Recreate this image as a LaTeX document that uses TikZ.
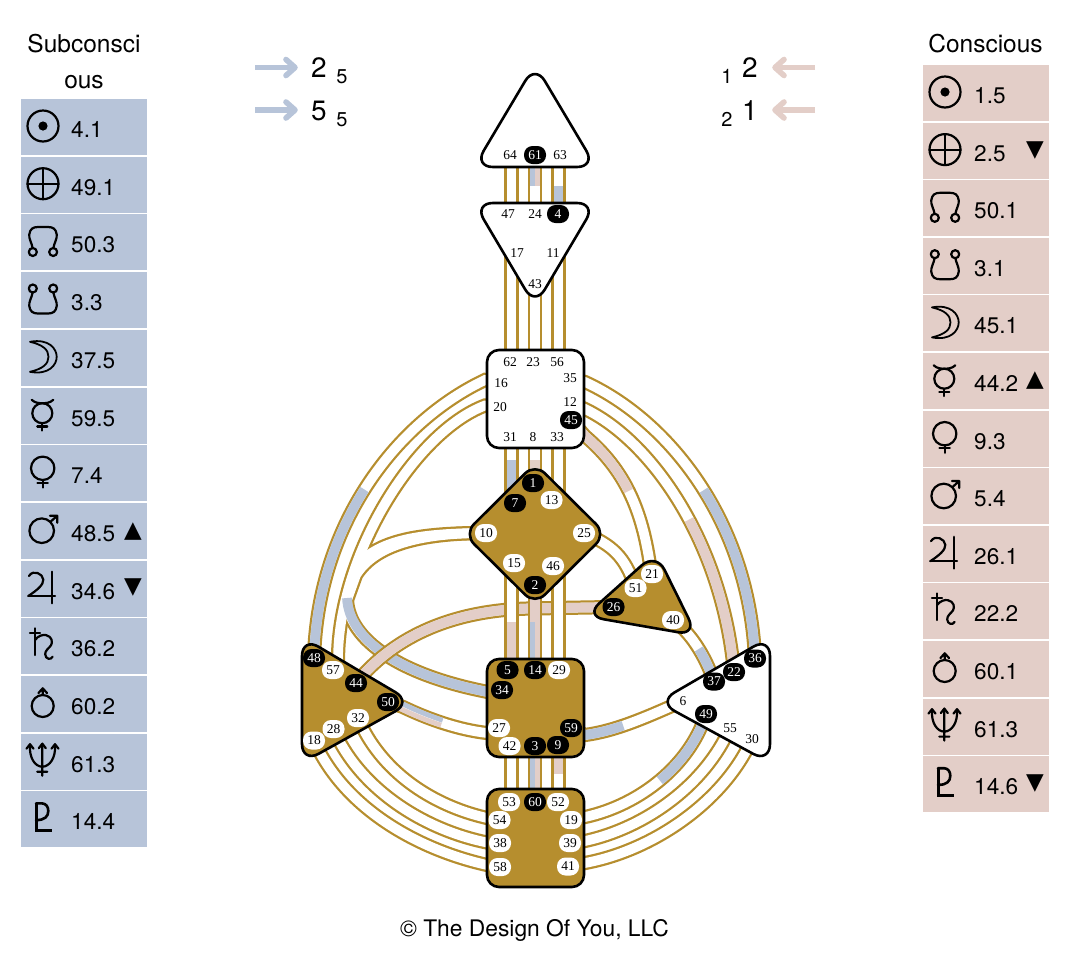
\documentclass[tikz,border=0pt]{standalone}
\usepackage{fontspec}
\setmainfont{TeX Gyre Heros}
\newfontfamily\gatefont{Liberation Serif}
\newfontfamily\symfont{DejaVu Sans}
\usetikzlibrary{calc}
\definecolor{gold}{HTML}{B68E2E}
\definecolor{subc}{HTML}{B7C4D9}
\definecolor{cons}{HTML}{E3CEC8}
\pgfdeclarelayer{bg}
\pgfsetlayers{bg,main}
\tikzset{
  chanO/.style={line width=14.2pt,draw=gold},
  chanI/.style={line width=9.7pt,draw=white},
  center/.style={draw=black,line width=2.6pt,rounded corners=19pt,line join=round},
  gateW/.style={fill=white,text=black,rounded corners=8.5pt,minimum width=22pt,minimum height=18pt,inner sep=0pt,font=\gatefont\fontsize{13.5}{13.5}\selectfont},
  gateB/.style={gateW,fill=black,text=white},
  gateP/.style={gateW,fill=none},
  rowL/.style={fill=subc,minimum width=126pt,minimum height=56pt,inner sep=0pt},
  rowR/.style={fill=cons,minimum width=126pt,minimum height=56pt,inner sep=0pt},
  val/.style={anchor=base west,inner sep=0pt,font=\fontsize{22.6}{22.6}\selectfont},
  head/.style={anchor=base,inner sep=0pt,font=\fontsize{24.5}{24.5}\selectfont},
  tri/.style={inner sep=0pt,font=\symfont\fontsize{23}{23}\selectfont},
  big/.style={anchor=base,inner sep=0pt,font=\fontsize{28}{28}\selectfont},
  small/.style={anchor=base,inner sep=0pt,font=\fontsize{20}{20}\selectfont},
  arrL/.style={draw=subc,line width=5.6pt},
  arrR/.style={draw=cons,line width=5.6pt},
  headcap/.style={line cap=round,line join=round},
  gl/.style={line width=2.2pt,draw=black,line cap=round,line join=round},
  sunG/.pic={\draw[gl] (0,0) circle (15.5); \fill (0,0) circle (4.6);},
  earthG/.pic={\draw[gl] (0,0) circle (15.5); \draw[gl] (-15.5,0) -- (15.5,0) (0,-15.5) -- (0,15.5);},
  nnG/.pic={\draw[gl] (-10.2,10.6) circle (4) (10.2,10.6) circle (4);
    \draw[gl] (-10.4,6.6) .. controls (-11,2) and (-14.5,-3) .. (-13.7,-7) .. controls (-13,-12.5) and (-10,-14.4) .. (-5,-14.4) -- (5,-14.4) .. controls (10,-14.4) and (13,-12.5) .. (13.7,-7) .. controls (14.5,-3) and (11,2) .. (10.4,6.6);},
  snG/.pic={\draw[gl] (-10.2,-10.6) circle (4) (10.2,-10.6) circle (4);
    \draw[gl] (-10.4,-6.6) .. controls (-11,-2) and (-14.5,3) .. (-13.7,7) .. controls (-13,12.5) and (-10,14.4) .. (-5,14.4) -- (5,14.4) .. controls (10,14.4) and (13,12.5) .. (13.7,7) .. controls (14.5,3) and (11,-2) .. (10.4,-6.6);},
  moonG/.pic={\draw[line width=1.8pt,line join=round] (-13,-15) .. controls (6,-18.5) and (13.7,-8) .. (13.7,0) .. controls (13.7,8) and (6,18.5) .. (-13,15) .. controls (0,12) and (5.5,7) .. (5.5,0) .. controls (5.5,-7) and (0,-12) .. (-13,-15) -- cycle;},
  mercG/.pic={\draw[gl] (-0.7,-1.3) circle (10); \draw[gl] (-11.3,-14.7) .. controls (-8,-11.5) and (-4,-11.3) .. (-0.7,-11.3) .. controls (3,-11.3) and (7,-11.5) .. (10.3,-14.7); \draw[gl] (-0.7,8.7) -- (-0.7,16) (-5.7,12) -- (4.3,12);},
  venG/.pic={\draw[gl] (-0.3,-3.9) circle (11.7); \draw[gl] (-0.3,7.8) -- (-0.3,15.3) (-5.5,10.5) -- (4.9,10.5);},
  marsG/.pic={\draw[gl] (-1.3,0.8) circle (12.3); \draw[gl] (7.3,-8) -- (14.3,-14.2) (7,-14.2) -- (14.3,-14.2) -- (14.3,-7.2);},
  jupG/.pic={\draw[gl] (8.7,-16) -- (8.7,15.7) (-14.7,8.4) -- (12,8.4); \draw[gl] (-14.7,8.4) .. controls (-5,2) and (0.5,-3) .. (0.3,-8) .. controls (0,-14) and (-10,-18.5) .. (-14,-11.6);},
  satG/.pic={\draw[gl] (-8,-17) -- (-8,9.7) (-13,-12.6) -- (-3,-12.6); \draw[gl] (-8,-5.3) .. controls (-5,-9.5) and (0,-11) .. (3,-10.2) .. controls (9,-9) and (10,-3) .. (8,0) .. controls (6,3) and (2,5) .. (2.2,9) .. controls (2.4,14) and (8,15) .. (9.7,11.4);},
  uraG/.pic={\draw[gl] (-0.3,3) circle (11); \draw[gl] (-0.3,-8) -- (-0.3,-14.7) (-4.5,-10) -- (-0.3,-14.7) -- (4,-10);},
  nepG/.pic={\draw[gl] (-0.7,-17) -- (-0.7,15) (-5.7,11) -- (4.3,11) (-13,-15.7) .. controls (-14,-3) and (-8,6) .. (-0.7,6) .. controls (6.6,6) and (13,-3) .. (12,-15.7);
    \draw[gl] (-16.5,-12) -- (-13,-16.5) -- (-9.5,-12) (-4.2,-12.5) -- (-0.7,-17) -- (2.8,-12.5) (8.5,-12) -- (12,-16.5) -- (15.5,-12);},
  pluG/.pic={\draw[line width=3pt,line cap=butt,line join=miter] (-7,-15) -- (-7,12.4) -- (8.7,12.4); \draw[gl,line width=2.6pt] (-7,-15) -- (-1,-15) .. controls (3,-15) and (5.3,-11.5) .. (5.3,-7.5) .. controls (5.3,-2) and (2,1.7) .. (-7,1.7);},
}
\newcommand\chan[1]{\draw[chanO] #1; \draw[chanI] #1;}
\newcommand\chanC[3]{\draw[chanO] #3; \draw[chanI] #3; \draw[chanI,draw=#1,dash pattern=on #2pt off 9000pt] #3;}
\begin{document}
\begin{tikzpicture}[x=1pt,y=-1pt]
\useasboundingbox (0,0) rectangle (1066,962);
% tables
\node[head] (hl1) at (84,52.5) {Subconsci};
\node[head] (hl2) at (84,88) {ous};
\node[head] (hr) at (985.5,52.5) {Conscious};
\foreach \i/\g/\t in {0/sunG/4.1,1/earthG/49.1,2/nnG/50.3,3/snG/3.3,4/moonG/37.5,5/mercG/59.5,6/venG/7.4,7/marsG/48.5,8/jupG/34.6,9/satG/36.2,10/uraG/60.2,11/nepG/61.3,12/pluG/14.4}{
  \pgfmathsetmacro\ty{99+57.7*\i}
  \node[rowL] (L\i) at (84,\ty+28) {};
  \pic at (43,\ty+27) {\g};
  \node[val] (LV\i) at (71,\ty+38.5) {\t};
}
\foreach \i/\g/\t in {0/sunG/1.5,1/earthG/2.5,2/nnG/50.1,3/snG/3.1,4/moonG/45.1,5/mercG/44.2,6/venG/9.3,7/marsG/5.4,8/jupG/26.1,9/satG/22.2,10/uraG/60.1,11/nepG/61.3,12/pluG/14.6}{
  \pgfmathsetmacro\ty{65+57.6*\i}
  \node[rowR] (R\i) at (986,\ty+28) {};
  \pic at (945,\ty+27) {\g};
  \node[val] (RV\i) at (974,\ty+38.5) {\t};
}
\node[tri] (t1) at (133,531.5) {▲};
\node[tri] (t2) at (133,588) {▼};
\node[tri] (t3) at (1035,151) {▼};
\node[tri] (t4) at (1035,381) {▲};
\node[tri] (t5) at (1035,784) {▼};
% top labels
\coordinate (a1s) at (255,67.5); \coordinate (a1e) at (295,67.5);
\coordinate (a2s) at (255,110); \coordinate (a2e) at (295,110);
\coordinate (b1s) at (815,67.5); \coordinate (b1e) at (775,67.5);
\coordinate (b2s) at (815,110); \coordinate (b2e) at (775,110);
\foreach \s/\e in {a1s/a1e,a2s/a2e}{
  \draw[arrL] (\s) -- (\e);
  \draw[arrL,headcap] ($(\e)+(-9,-8)$) -- (\e) -- ($(\e)+(-9,8)$);
}
\foreach \s/\e in {b1s/b1e,b2s/b2e}{
  \draw[arrR] (\s) -- (\e);
  \draw[arrR,headcap] ($(\e)+(9,-8)$) -- (\e) -- ($(\e)+(9,8)$);
}
\node[big] (n1) at (319,77.5) {2};
\node[small] (n2) at (342,83) {5};
\node[big] (n3) at (319,120) {5};
\node[small] (n4) at (342,126) {5};
\node[big] (n5) at (750,77.5) {2};
\node[small] (n6) at (727,83) {1};
\node[big] (n7) at (750,120.5) {1};
\node[small] (n8) at (727,126) {2};
\node[anchor=base,inner sep=0pt,font=\fontsize{22.8}{22.8}\selectfont] (copy) at (534.5,936) {© The Design Of You, LLC};
% centers
\draw[center,fill=white] (535,64.5) -- (596,167) -- (474,167) -- cycle;
\draw[center,fill=white] (474,203) -- (596,203) -- (535,306) -- cycle;
\draw[center,fill=white,rounded corners=12pt] (487,350) rectangle (584,448);
\draw[center,fill=gold,rounded corners=14pt] (535,463.5) -- (606,534) -- (535,604.5) -- (464,534) -- cycle;
\draw[center,fill=gold] (656,552.6) -- (697,635.5) -- (585,616) -- cycle;
\draw[center,fill=gold] (302,637) -- (412,702) -- (302,763) -- cycle;
\draw[center,fill=white] (770,637) -- (770,763) -- (658,702) -- cycle;
\draw[center,fill=gold,rounded corners=12pt] (487,659) rectangle (584,757);
\draw[center,fill=gold,rounded corners=12pt] (487,789) rectangle (584,887);
% gates
\foreach \n/\x/\y in {64/510/155,63/560/155,47/508/214,24/535/214,17/517/253,11/553/253,43/535/284,62/510/362,23/533/362,56/557/362,16/501/383,35/570/378,20/500/407,12/570/402,31/510/437,8/533/437,33/557/437,6/683/701,55/730/728,30/752/739}
  \node[gateP] (g\n) at (\x,\y) {\n};
\foreach \n/\x/\y in {61/535/155,4/558/214,45/571/420,1/533/483,7/515/503,2/535/585,26/613.5/607,48/314/658,44/356/683,50/388/702,36/755/658.5,22/734/672,37/714/681.5,49/706/714,5/507.5/670,14/535/670,34/502/690,3/535/746,59/571/728,9/558/745,60/535/802}
  \node[gateB] (g\n) at (\x,\y) {\n};
\foreach \n/\x/\y in {13/551.5/500,10/486/533,25/584/533,15/514/563,46/553/566,21/652/574,51/635.5/588,40/673/620,57/333/670,32/358/718,28/333.5/729,18/314/740.5,29/559/670,27/499/728,42/509.5/746,53/509/802,52/558/802,54/499.5/820,19/571/820,38/500/843,39/570/843,58/500/867,41/568/866.5}
  \node[gateW] (g\n) at (\x,\y) {\n};
% column guides
\coordinate (colL) at (511.5,0); \coordinate (colC) at (535,0); \coordinate (colR) at (558.5,0);
\coordinate (colCa) at (532.4,0); \coordinate (colCb) at (537.6,0);
% channels
\begin{pgfonlayer}{bg}
\chanC{subc}{178}{(g48.center) .. controls (318,520) and (400,420) .. (485,380) -- (g16.center)}
\chanC{subc}{178}{(g36.center) .. controls (749,520) and (668,420) .. (585,382) -- (g35.center)}
\chanC{cons}{160}{(g22.center) .. controls (722,540) and (650,440) .. (585,409) -- (g12.center)}
\chanC{cons}{92}{(g45.center) -- (585,436) .. controls (625,470) and (642,510) .. (650,565) -- (g21.center)}
\chan{(g25.center) .. controls (612,545) and (625,556) .. (g51.center)}
\chanC{subc}{36}{(g37.center) .. controls (705,655) and (690,632) .. (g40.center)}
\chanC{subc}{55}{(g59.center) -- (585,735) .. controls (615,731) and (645,718) .. (g6.center)}
\chan{(g50.center) -- (403,707) .. controls (430,720) and (460,730) .. (487,733) -- (g27.center)}
\draw[chanI,line width=4.9pt,draw=subc,shift={(1.1,-2.4)},dash pattern=on 58pt off 9000pt] (g50.center) -- (403,707) .. controls (430,720) and (460,730) .. (487,733);
\draw[chanI,line width=4.9pt,draw=cons,shift={(-1.1,2.4)},dash pattern=on 58pt off 9000pt] (g50.center) -- (403,707) .. controls (430,720) and (460,730) .. (487,733);
% root to the sides
\chan{(g18.center) .. controls (345,810) and (420,850) .. (487,865) -- (g58.center)}
\chan{(g28.center) .. controls (360,790) and (425,830) .. (487,842.5) -- (g38.center)}
\chan{(g32.center) .. controls (380,770) and (430,805) .. (487,818) -- (g54.center)}
\chan{(g30.center) .. controls (725,800) and (655,850) .. (585,863) -- (g41.center)}
\chan{(g55.center) .. controls (705,785) and (645,828) .. (585,841) -- (g39.center)}
\chanC{subc}{82}{(g49.center) .. controls (690,765) and (640,805) .. (585,817) -- (g19.center)}
% integration group
\draw[chanO] (g57.center) -- (338,660) .. controls (338,555) and (415,432) .. (485,405.5) -- (g20.center);
\draw[chanO] (g10.center) .. controls (420,533) and (385,540) .. (362,560);
\draw[chanO] (g10.center) .. controls (420,533) and (375,545) .. (356,575) -- (347,600) .. controls (349,640) and (400,675) .. (488,692) -- (g34.center);
\draw[chanI] (g57.center) -- (338,660) .. controls (338,555) and (415,432) .. (485,405.5) -- (g20.center);
\draw[chanI] (g10.center) .. controls (420,533) and (385,540) .. (362,560);
\draw[chanI] (g10.center) .. controls (420,533) and (375,545) .. (356,575) -- (347,600) .. controls (349,640) and (400,675) .. (488,692) -- (g34.center);
\draw[chanI,draw=subc] (347,598) .. controls (349,640) and (400,675) .. (488,692) -- (g34.center);
% pink horizontal
\chanC{cons}{400}{(g26.center) -- (530,608.5) .. controls (455,610) and (395,635) .. (g44.center)}
% verticals
\chan{(g64 -| colL) -- (g47 -| colL)}
\chan{(g17 -| colL) -- (g62 -| colL)}
\chanC{subc}{43}{(g7 -| colL) -- (g31 -| colL)}
\chanC{cons}{48}{(g5 -| colL) -- (g15 -| colL)}
\chan{(g42 -| colL) -- (g53 -| colL)}
\chan{(g61 -| colC) -- (g24 -| colC)}
\draw[chanI,line width=5pt,draw=subc] (g61 -| colCa) -- ++(0,31);
\draw[chanI,line width=5pt,draw=cons] (g61 -| colCb) -- ++(0,31);
\chan{(g43 -| colC) -- (g23 -| colC)}
\chanC{cons}{23}{(g1 -| colC) -- (g8 -| colC)}
\chanC{cons}{37}{(g2 -| colC) -- (g14 -| colC)}
\draw[chanI,line width=5pt,draw=subc] (g14 -| colCa) -- ++(0,-48);
\draw[chanI,line width=5pt,draw=cons] (g14 -| colCb) -- ++(0,-48);
\chan{(g3 -| colC) -- (g60 -| colC)}
\draw[chanI,line width=5pt,draw=subc] (g3 -| colCa) -- (g60 -| colCa);
\draw[chanI,line width=5pt,draw=cons] (g3 -| colCb) -- (g60 -| colCb);
\chanC{subc}{28}{(g4 -| colR) -- (g63 -| colR)}
\chan{(g11 -| colR) -- (g56 -| colR)}
\chan{(g33 -| colR) -- (g13 -| colR)}
\chan{(g46 -| colR) -- (g29 -| colR)}
\chanC{cons}{29}{(g9 -| colR) -- (g52 -| colR)}
\end{pgfonlayer}
\end{tikzpicture}
\end{document}
